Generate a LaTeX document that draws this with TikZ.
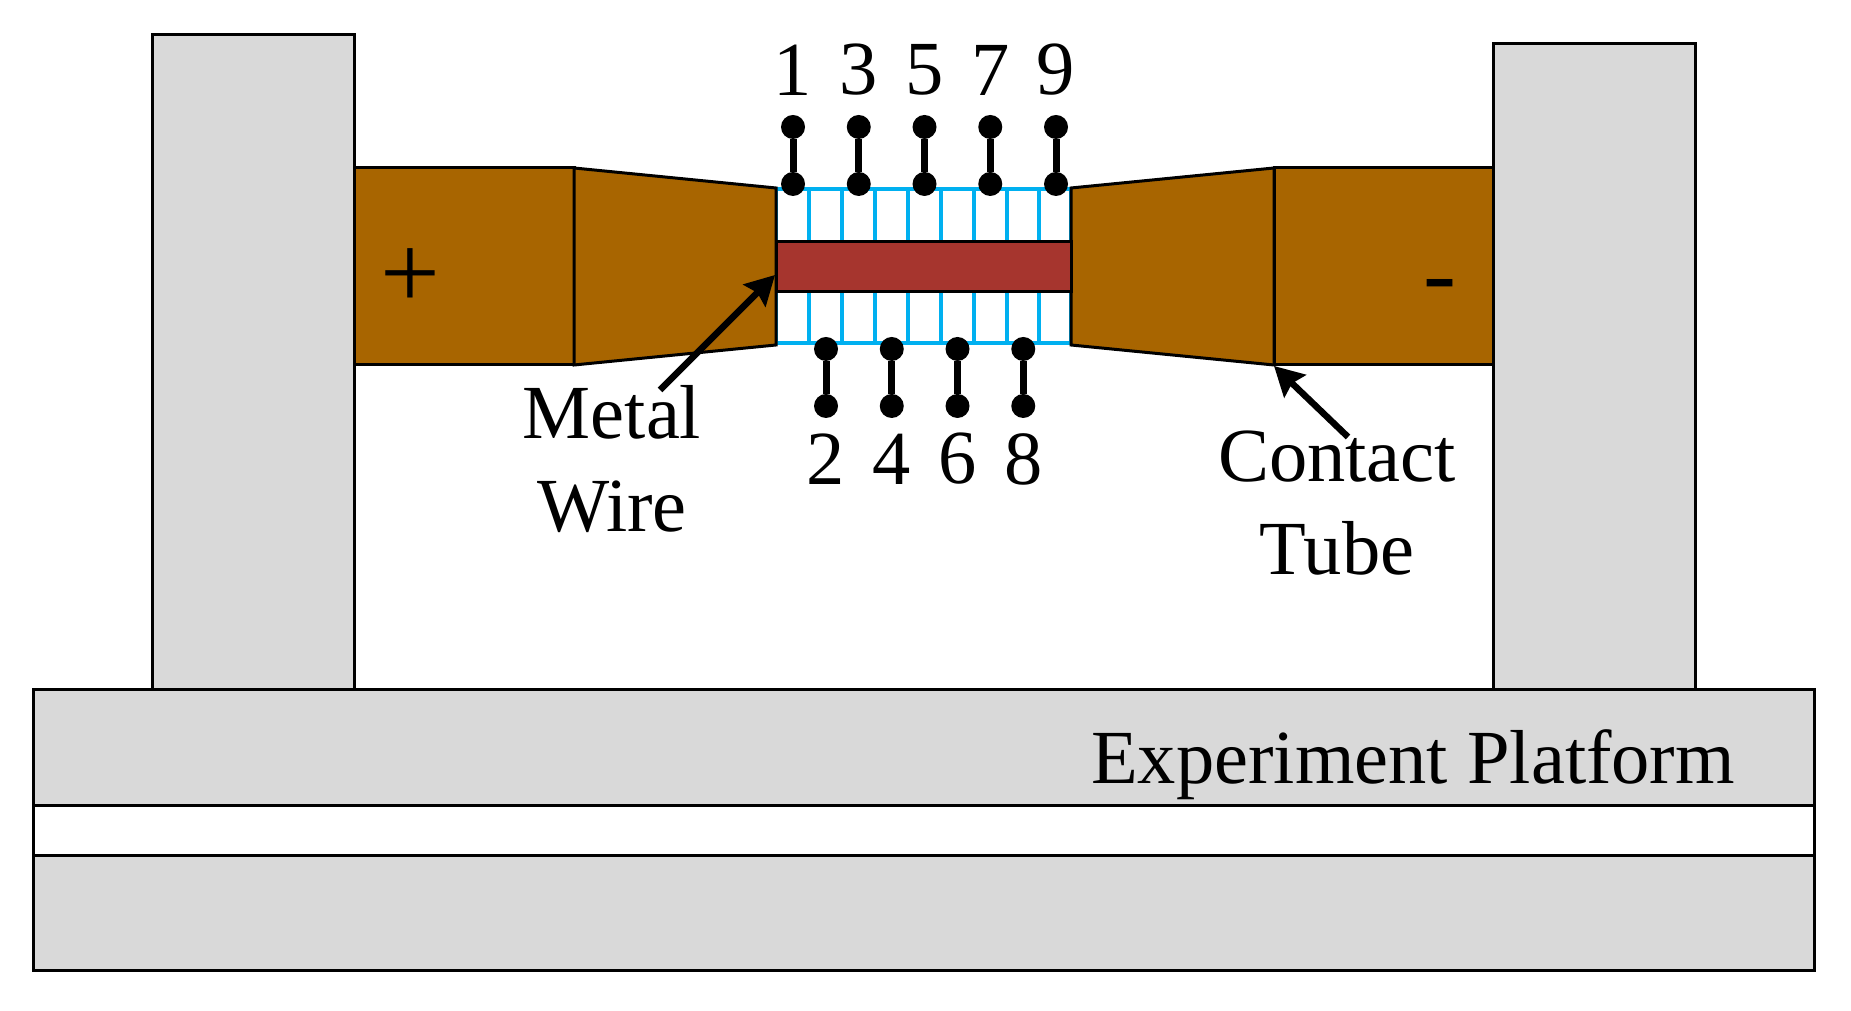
\documentclass[tikz,border=0pt]{standalone}
\usepackage{fontspec}
\setmainfont{Liberation Serif}
\usetikzlibrary{arrows.meta}
\definecolor{mGray}{HTML}{D9D9D9}
\definecolor{mBrown}{HTML}{A86500}
\definecolor{mWire}{HTML}{A6352E}
\definecolor{mBlue}{HTML}{00B0F0}
\tikzset{font=\fontsize{76.5}{93.5}\selectfont}
\tikzstyle{support} = [draw=black, line width=3pt, fill=mGray]
\tikzstyle{tube} = [draw=black, line width=3pt, fill=mBrown, line join=miter]
\tikzstyle{wire} = [draw=black, line width=3pt, fill=mWire]
\tikzstyle{strip} = [draw=mBlue, line width=3.5pt]
\tikzstyle{pad} = [circle, fill=black, inner sep=0pt, minimum size=24pt]
\tikzstyle{stem} = [line width=7pt]
\tikzstyle{num} = [inner sep=0pt]
\tikzstyle{caption} = [inner sep=0pt, anchor=base, align=center]
\tikzstyle{sign} = [inner sep=0pt, anchor=base, font=\fontsize{99}{99}\selectfont]
\tikzstyle{arrow} = [line width=6.5pt,-{Stealth[length=29pt,width=31pt,inset=4pt]}]

\begin{document}
\begin{tikzpicture}[x=1pt, y=1pt, node distance=57pt]
    \useasboundingbox (0,0) rectangle (1851,1011);

    % supports and platform
    \draw [support] (152,976) rectangle (354,321);
    \draw [support] (1493,967) rectangle (1695,321);
    \draw [support] (33,321) rectangle (1814,205);
    \draw [support, fill=white] (33,205) rectangle (1814,155);
    \draw [support] (33,155) rectangle (1814,40);
    \node (platform) [caption] at (1413,227) {Experiment Platform};

    % sensor strip
    \draw [strip] (776,822) rectangle (1071,668);
    \draw [strip] (809,822) -- (809,668);
    \draw [strip] (842,822) -- (842,668);
    \draw [strip] (875,822) -- (875,668);
    \draw [strip] (908,822) -- (908,668);
    \draw [strip] (941,822) -- (941,668);
    \draw [strip] (974,822) -- (974,668);
    \draw [strip] (1007,822) -- (1007,668);
    \draw [strip] (1039,822) -- (1039,668);

    % contact tubes and wire
    \draw [tube] (354,843) rectangle (574,646);
    \draw [tube] (574,843) -- (776,823) -- (776,666) -- (574,646) -- cycle;
    \draw [tube] (1274,843) rectangle (1493,646);
    \draw [tube] (1274,843) -- (1071,823) -- (1071,666) -- (1274,646) -- cycle;
    \draw [wire] (776,769) rectangle (1071,719);
    \node (plus) [sign, font=\fontsize{106}{106}\selectfont] at (410,702) {+};
    \node (minus) [sign] at (1440,704) {-};

    % odd pins
    \node (pad1) [pad] at (793,827) {};
    \node (pad3) [pad, right of=pad1, xshift=8.75pt] {};
    \node (pad5) [pad, right of=pad3, xshift=8.75pt] {};
    \node (pad7) [pad, right of=pad5, xshift=8.75pt] {};
    \node (pad9) [pad, right of=pad7, xshift=8.75pt] {};
    \node (tip1) [pad, above of=pad1] {};
    \node (tip3) [pad, above of=pad3] {};
    \node (tip5) [pad, above of=pad5] {};
    \node (tip7) [pad, above of=pad7] {};
    \node (tip9) [pad, above of=pad9] {};
    \node (num1) [num, above of=tip1] {1};
    \node (num3) [num, above of=tip3] {3};
    \node (num5) [num, above of=tip5] {5};
    \node (num7) [num, above of=tip7] {7};
    \node (num9) [num, above of=tip9] {9};

    % even pins
    \node (pad2) [pad] at (826,662) {};
    \node (pad4) [pad, right of=pad2, xshift=8.75pt] {};
    \node (pad6) [pad, right of=pad4, xshift=8.75pt] {};
    \node (pad8) [pad, right of=pad6, xshift=8.75pt] {};
    \node (tip2) [pad, below of=pad2] {};
    \node (tip4) [pad, below of=pad4] {};
    \node (tip6) [pad, below of=pad6] {};
    \node (tip8) [pad, below of=pad8] {};
    \node (num2) [num, below of=tip2, yshift=4pt] {2};
    \node (num4) [num, below of=tip4, yshift=4pt] {4};
    \node (num6) [num, below of=tip6, yshift=4pt] {6};
    \node (num8) [num, below of=tip8, yshift=4pt] {8};

    \draw [stem] (pad1) -- (tip1);
    \draw [stem] (pad3) -- (tip3);
    \draw [stem] (pad5) -- (tip5);
    \draw [stem] (pad7) -- (tip7);
    \draw [stem] (pad9) -- (tip9);
    \draw [stem] (pad2) -- (tip2);
    \draw [stem] (pad4) -- (tip4);
    \draw [stem] (pad6) -- (tip6);
    \draw [stem] (pad8) -- (tip8);

    % labels with pointers
    \node (metal) [caption] at (612,479) {Metal\\Wire};
    \node (contact) [caption] at (1337,436) {Contact\\Tube};
    \coordinate (metalTail) at (660,621);
    \coordinate (wireEnd) at (775,736);
    \coordinate (contactTail) at (1348,574);
    \coordinate (tubeEnd) at (1274,645);
    \draw [arrow] (metalTail) -- (wireEnd);
    \draw [arrow] (contactTail) -- (tubeEnd);
\end{tikzpicture}
\end{document}
